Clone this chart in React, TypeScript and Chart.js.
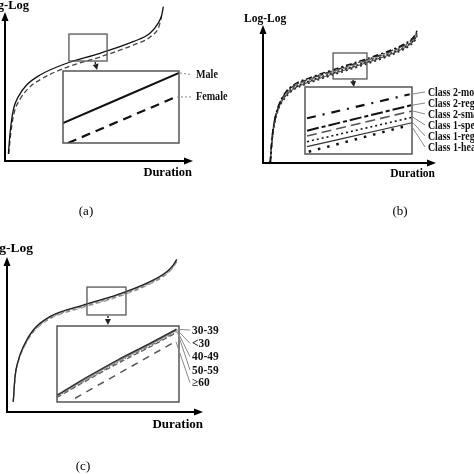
import React, { useEffect, useRef } from "react";
import { Chart, registerables } from "chart.js";

Chart.register(...registerables);

const SERIF = "'Liberation Serif', 'Times New Roman', serif";

// ---------------- Panel (a): sex ----------------
const aMaleX = [1.8, 2.7, 4.4, 7.1, 11.5, 18.6, 32.8, 50.5, 68.1, 77.1, 81.4, 83.4, 84.2];
const aMaleY = [4.7, 18.8, 34.2, 43.2, 51.0, 57.7, 65.6, 72.3, 80.1, 85.7, 92.4, 98.0, 103.6];
const aFemaleX = [2.0, 3.0, 4.9, 7.8, 12.3, 19.5, 33.5, 51.0, 68.5, 77.5, 81.8, 83.3];
const aFemaleY = [4.7, 18.0, 32.5, 41.0, 48.6, 55.2, 63.2, 70.0, 78.0, 83.5, 90.0, 97.0];
const aInsetMaleX = [0, 100];
const aInsetMaleY = [27.8, 97.2];
const aInsetFemaleX = [4.3, 97.4];
const aInsetFemaleY = [0, 63.9];
const aLabels = ["Male", "Female"];

// ---------------- Panel (b): vehicle class ----------------
const bX = [4.2, 5.2, 6.5, 9.1, 12.9, 17.7, 27.3, 42.8, 62.0, 77.5, 85.1, 88.0, 89.0];
const bC2Mo = [0.2, 17.6, 29.8, 42.0, 51.0, 56.7, 61.9, 68.5, 76.4, 83.7, 89.0, 92.9, 95.8];
const bC2Reg = [0.2, 17.2, 29.4, 41.5, 50.4, 56.0, 61.2, 67.8, 75.7, 83.0, 88.3, 92.2, 95.1];
const bC2Sma = [0.2, 16.9, 29.0, 41.0, 49.7, 55.3, 60.5, 67.1, 75.0, 82.3, 87.6, 91.5, 94.4];
const bC1Spe = [0.2, 16.5, 28.6, 40.6, 48.9, 54.5, 59.7, 66.3, 74.2, 81.5, 86.8, 90.7, 93.6];
const bC1Reg = [0.2, 16.2, 28.2, 40.1, 48.2, 53.8, 59.0, 65.6, 73.5, 80.8, 86.1, 90.0, 92.9];
const bC1Hea = [0.2, 15.8, 27.8, 39.6, 47.5, 53.1, 58.3, 64.9, 72.8, 80.1, 85.4, 89.3, 92.2];
const bInsetX = [1.9, 100];
const bInsetC2MoX = [1.9, 97.8];
const bInsetC1HeaX = [3.5, 98];
const bInsetC2Mo = [53.3, 89.1];
const bInsetC2Reg = [34.8, 73.1];
const bInsetC2Sma = [26.9, 64.2];
const bInsetC1Spe = [18.4, 54.7];
const bInsetC1Reg = [11.0, 46.7];
const bInsetC1Hea = [3.4, 43.3];
const bLabels = [
  "Class 2-motorcycle",
  "Class 2-regular",
  "Class 2-small",
  "Class 1-special",
  "Class 1-regular",
  "Class 1-heavy",
];

// ---------------- Panel (c): age ----------------
const cX = [3.2, 4.1, 5.8, 8.3, 13.4, 21.9, 38.9, 56.0, 73.0, 81.5, 84.8, 86.6];
const c3039 = [6.6, 22.8, 33.5, 42.1, 52.9, 61.5, 69.0, 75.5, 84.1, 90.5, 94.8, 98.5];
const cLt30 = [6.6, 22.6, 33.3, 41.8, 52.6, 61.2, 68.7, 75.2, 83.8, 90.2, 94.5, 98.2];
const c4049 = [6.6, 22.4, 33.0, 41.5, 52.3, 60.9, 68.4, 74.9, 83.5, 89.9, 94.2, 97.9];
const c5059 = [6.6, 22.2, 32.8, 41.2, 52.0, 60.6, 68.1, 74.6, 83.2, 89.6, 93.9, 97.6];
const cGe60 = [6.6, 22.0, 32.5, 40.8, 51.5, 60.0, 67.5, 74.0, 82.6, 89.0, 93.4, 97.0];
const cInsetX = [0, 25, 50, 75, 98];
const cInset3039 = [9.0, 33.0, 55.5, 76.0, 95.7];
const cInsetLt30 = [8.0, 31.5, 53.8, 74.5, 94.3];
const cInset4049 = [7.0, 30.2, 52.3, 73.0, 92.8];
const cInset5059 = [6.0, 28.8, 50.8, 71.5, 91.4];
const cInsetGe60X = [14.8, 96.7];
const cInsetGe60 = [4.9, 79.3];
const cLabels = ["30-39", "<30", "40-49", "50-59", "\u226560"];

// ---------------- helpers ----------------
function pts(xs: number[], ys: number[]) {
  return xs.map((x, i) => ({ x, y: ys[i] }));
}

function ds(label: string, xs: number[], ys: number[], color: string, width: number, dash: number[], extra: any = {}) {
  return {
    label,
    data: pts(xs, ys),
    borderColor: color,
    borderWidth: width,
    borderDash: dash,
    pointRadius: 0,
    fill: false,
    cubicInterpolationMode: "monotone",
    ...extra,
  };
}

function head(ctx: CanvasRenderingContext2D, x: number, y: number, angle: number, len: number, half: number) {
  ctx.save();
  ctx.translate(x, y);
  ctx.rotate(angle);
  ctx.beginPath();
  ctx.moveTo(0, 0);
  ctx.lineTo(-len, -half);
  ctx.lineTo(-len, half);
  ctx.closePath();
  ctx.fill();
  ctx.restore();
}

function mainPlugin(cfg: any) {
  return {
    id: "mainDeco",
    afterDraw(chart: any) {
      const ctx: CanvasRenderingContext2D = chart.ctx;
      const a = chart.chartArea;
      const sx = chart.scales.x;
      const sy = chart.scales.y;
      ctx.save();
      // axes
      ctx.strokeStyle = "#000";
      ctx.fillStyle = "#000";
      ctx.lineWidth = 2;
      ctx.setLineDash([]);
      ctx.beginPath();
      ctx.moveTo(a.left, a.bottom + 1);
      ctx.lineTo(a.left, a.top + 8);
      ctx.stroke();
      head(ctx, a.left, a.top, -Math.PI / 2, 9, 3.5);
      ctx.beginPath();
      ctx.moveTo(a.left - 1, a.bottom);
      ctx.lineTo(a.right - 8, a.bottom);
      ctx.stroke();
      head(ctx, a.right, a.bottom, 0, 9, 3.5);
      // zoom box
      const x0 = sx.getPixelForValue(cfg.box[0]);
      const x1 = sx.getPixelForValue(cfg.box[1]);
      const y0 = sy.getPixelForValue(cfg.box[2]);
      const y1 = sy.getPixelForValue(cfg.box[3]);
      ctx.strokeStyle = "#555";
      ctx.lineWidth = 1.3;
      ctx.strokeRect(x0, y1, x1 - x0, y0 - y1);
      // arrow to inset
      const ax = sx.getPixelForValue(cfg.arrowX);
      const ay = y0 + 1;
      const ex = ax + cfg.arrowDx;
      const ey = cfg.arrowEndY;
      const ang = Math.atan2(ey - ay, ex - ax);
      ctx.strokeStyle = "#222";
      ctx.fillStyle = "#222";
      ctx.lineWidth = 1.4;
      ctx.setLineDash([2, 2]);
      ctx.beginPath();
      ctx.moveTo(ax, ay);
      ctx.lineTo(ex - 5 * Math.cos(ang), ey - 5 * Math.sin(ang));
      ctx.stroke();
      ctx.setLineDash([]);
      head(ctx, ex, ey, ang, 6, 3);
      // texts
      ctx.fillStyle = "#000";
      ctx.font = `bold ${cfg.titleSize}px ${SERIF}`;
      ctx.textBaseline = "alphabetic";
      ctx.textAlign = cfg.titleAlign;
      ctx.fillText(cfg.title, cfg.titleX, cfg.titleY);
      ctx.font = `bold ${cfg.durSize}px ${SERIF}`;
      ctx.textAlign = "right";
      ctx.textBaseline = "middle";
      ctx.fillText("Duration", cfg.durX, cfg.durY);
      ctx.font = `13px ${SERIF}`;
      ctx.textAlign = "center";
      ctx.fillText(cfg.caption, cfg.capX, cfg.capY);
      ctx.restore();
    },
  };
}

function insetPlugin(cfg: any) {
  return {
    id: "insetDeco",
    beforeDatasetsDraw(chart: any) {
      const ctx: CanvasRenderingContext2D = chart.ctx;
      const a = chart.chartArea;
      ctx.save();
      ctx.fillStyle = "#fff";
      ctx.fillRect(a.left, a.top, a.right - a.left, a.bottom - a.top);
      ctx.restore();
    },
    afterDatasetsDraw(chart: any) {
      const ctx: CanvasRenderingContext2D = chart.ctx;
      const a = chart.chartArea;
      const sy = chart.scales.y;
      const sx = chart.scales.x;
      ctx.save();
      ctx.strokeStyle = "#555";
      ctx.lineWidth = 1.5;
      ctx.setLineDash([]);
      ctx.strokeRect(a.left, a.top, a.right - a.left, a.bottom - a.top);
      // leaders + labels
      ctx.font = `bold ${cfg.labelSize}px ${SERIF}`;
      ctx.textAlign = "left";
      ctx.textBaseline = "middle";
      cfg.labels.forEach((t: string, i: number) => {
        const d = chart.data.datasets[i].data;
        const last = d[d.length - 1];
        const sxp = Math.min(sx.getPixelForValue(last.x), a.right);
        const syp = sy.getPixelForValue(last.y);
        const ly = sy.getPixelForValue(cfg.labelY[i]);
        ctx.strokeStyle = "#888";
        ctx.lineWidth = 1;
        ctx.setLineDash(cfg.leaderDash);
        ctx.beginPath();
        ctx.moveTo(sxp + 1, syp);
        ctx.lineTo(a.right + cfg.leaderEnd, ly);
        ctx.stroke();
        ctx.setLineDash([]);
        ctx.fillStyle = "#111";
        ctx.save();
        ctx.translate(a.right + cfg.labelDx, ly + 0.5);
        ctx.scale(cfg.labelScaleX, 1);
        ctx.fillText(t, 0, 0);
        ctx.restore();
      });
      ctx.restore();
    },
  };
}

type ChartSpec = {
  left: number;
  top: number;
  width: number;
  height: number;
  padding: { left: number; top: number; right: number; bottom: number };
  datasets: any[];
  plugin: any;
};

function ChartBox({ spec }: { spec: ChartSpec }) {
  const ref = useRef<HTMLCanvasElement | null>(null);
  useEffect(() => {
    if (!ref.current) return;
    const chart = new Chart(ref.current, {
      type: "line",
      data: { datasets: spec.datasets },
      options: {
        responsive: false,
        maintainAspectRatio: false,
        animation: false,
        events: [],
        layout: { padding: spec.padding },
        scales: {
          x: { type: "linear", min: 0, max: 100, display: false },
          y: { type: "linear", min: 0, max: 100, display: false },
        },
        plugins: { legend: { display: false }, tooltip: { enabled: false } },
      } as any,
      plugins: [spec.plugin],
    } as any);
    return () => chart.destroy();
  }, []);
  return (
    <canvas
      ref={ref}
      width={spec.width}
      height={spec.height}
      style={{ position: "absolute", left: spec.left, top: spec.top, width: spec.width, height: spec.height }}
    />
  );
}

// ---------------- chart specs ----------------
const specs: ChartSpec[] = [
  {
    left: 0,
    top: 0,
    width: 237,
    height: 230,
    padding: { left: 5, top: 12, right: 44, bottom: 69 },
    datasets: [
      ds("Male", aMaleX, aMaleY, "#111", 1.3, [], { clip: false }),
      ds("Female", aFemaleX, aFemaleY, "#444", 1.3, [5, 3], { clip: false }),
    ],
    plugin: mainPlugin({
      box: [34.0, 54.3, 67.1, 85.2],
      arrowX: 47.9,
      arrowDx: 2,
      arrowEndY: 70,
      title: "Log-Log",
      titleAlign: "right",
      titleSize: 12.5,
      titleX: 29,
      titleY: 9,
      durSize: 12.5,
      durX: 192,
      durY: 172.5,
      caption: "(a)",
      capX: 86,
      capY: 212,
    }),
  },
  {
    left: 60,
    top: 68,
    width: 177,
    height: 80,
    padding: { left: 3, top: 3, right: 58, bottom: 5 },
    datasets: [
      ds("Male", aInsetMaleX, aInsetMaleY, "#111", 2, []),
      ds("Female", aInsetFemaleX, aInsetFemaleY, "#111", 2.2, [9, 6]),
    ],
    plugin: insetPlugin({
      labels: aLabels,
      labelY: [95, 64],
      labelSize: 11.5,
      labelScaleX: 0.88,
      labelDx: 17,
      leaderEnd: 13,
      leaderDash: [2, 2],
    }),
  },
  {
    left: 237,
    top: 0,
    width: 237,
    height: 230,
    padding: { left: 26, top: 25, right: 38, bottom: 67 },
    datasets: [
      ds("Class 2-mo", bX, bC2Mo, "#111", 1.5, [6, 3, 2, 3]),
      ds("Class 2-reg", bX, bC2Reg, "#333", 1.4, [7, 2, 2, 2]),
      ds("Class 2-sma", bX, bC2Sma, "#777", 1.4, [6, 3]),
      ds("Class 1-spe", bX, bC1Spe, "#222", 1.4, [2, 2]),
      ds("Class 1-reg", bX, bC1Reg, "#555", 1.1, []),
      ds("Class 1-hea", bX, bC1Hea, "#222", 1.8, [2, 3]),
    ],
    plugin: mainPlugin({
      box: [40.5, 60.1, 60.9, 79.7],
      arrowX: 52,
      arrowDx: 1,
      arrowEndY: 87,
      title: "Log-Log",
      titleAlign: "left",
      titleSize: 11.5,
      titleX: 7,
      titleY: 22,
      durSize: 11.5,
      durX: 198,
      durY: 174,
      caption: "(b)",
      capX: 163,
      capY: 212,
    }),
  },
  {
    left: 300,
    top: 84,
    width: 174,
    height: 74,
    padding: { left: 5, top: 3, right: 62, bottom: 4 },
    datasets: [
      ds("Class 2-mo", bInsetC2MoX, bInsetC2Mo, "#111", 2.2, [9, 7, 2, 7]),
      ds("Class 2-reg", bInsetX, bInsetC2Reg, "#111", 2, [12, 3, 4, 3]),
      ds("Class 2-sma", bInsetX, bInsetC2Sma, "#555", 1.6, [10, 5]),
      ds("Class 1-spe", bInsetX, bInsetC1Spe, "#111", 1.6, [2, 3]),
      ds("Class 1-reg", bInsetX, bInsetC1Reg, "#333", 1.2, []),
      ds("Class 1-hea", bInsetC1HeaX, bInsetC1Hea, "#111", 2.5, [2.5, 7]),
    ],
    plugin: insetPlugin({
      labels: bLabels,
      labelY: [92.5, 76.1, 59.7, 43.3, 26.9, 10.4],
      labelSize: 12,
      labelScaleX: 0.82,
      labelDx: 16,
      leaderEnd: 13,
      leaderDash: [],
    }),
  },
  {
    left: 0,
    top: 230,
    width: 237,
    height: 244,
    padding: { left: 7, top: 27, right: 34, bottom: 62 },
    datasets: [
      ds("30-39", cX, c3039, "#222", 1.3, []),
      ds("<30", cX, cLt30, "#aaa", 1.2, []),
      ds("40-49", cX, c4049, "#888", 1.2, [4, 2]),
      ds("50-59", cX, c5059, "#777", 1.2, [3, 3]),
      ds("\u226560", cX, cGe60, "#999", 1.2, [5, 3]),
    ],
    plugin: mainPlugin({
      box: [40.8, 60.7, 62.6, 80.6],
      arrowX: 51.5,
      arrowDx: 0,
      arrowEndY: 95,
      title: "Log-Log",
      titleAlign: "right",
      titleSize: 13.5,
      titleX: 33,
      titleY: 22,
      durSize: 13,
      durX: 203,
      durY: 194.5,
      caption: "(c)",
      capX: 83,
      capY: 237,
    }),
  },
  {
    left: 54,
    top: 322,
    width: 183,
    height: 84,
    padding: { left: 3, top: 4, right: 58, bottom: 4 },
    datasets: [
      ds("30-39", cInsetX, cInset3039, "#333", 1.5, []),
      ds("<30", cInsetX, cInsetLt30, "#999", 1.5, []),
      ds("40-49", cInsetX, cInset4049, "#777", 1.5, [4, 2, 1, 2]),
      ds("50-59", cInsetX, cInset5059, "#555", 1.2, [5, 3]),
      ds("\u226560", cInsetGe60X, cInsetGe60, "#555", 1.5, [7, 6]),
    ],
    plugin: insetPlugin({
      labels: cLabels,
      labelY: [94.7, 77.2, 59.6, 42.1, 25.4],
      labelSize: 12,
      labelScaleX: 0.95,
      labelDx: 13,
      leaderEnd: 11,
      leaderDash: [],
    }),
  },
];

export default function App() {
  return (
    <div style={{ position: "absolute", left: 0, top: 0, width: 474, height: 474, background: "#fff", overflow: "hidden" }}>
      {specs.map((s, i) => (
        <ChartBox key={i} spec={s} />
      ))}
    </div>
  );
}
